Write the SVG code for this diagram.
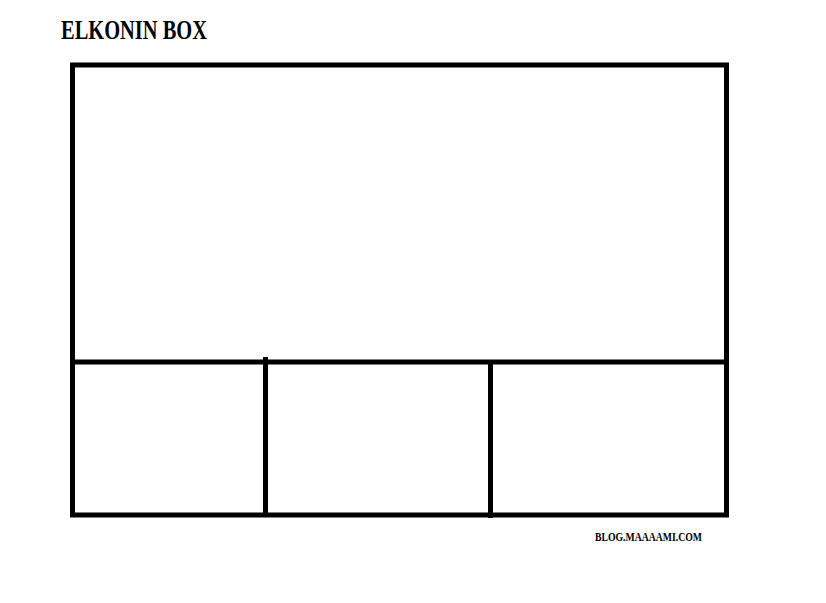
<svg xmlns="http://www.w3.org/2000/svg" width="826" height="603" viewBox="0 0 826 603">
<style>
.ln{stroke:#000;stroke-width:5;fill:none}
.t{font-family:"Liberation Serif","DejaVu Serif",serif;font-weight:bold;fill:#000}
</style>
<rect width="826" height="603" fill="#fff"/>
<g id="title"><text class="t" x="61" y="39" font-size="28" textLength="146" lengthAdjust="spacingAndGlyphs">ELKONIN BOX</text></g>
<g id="box">
<rect class="ln" x="72.5" y="65" width="654" height="450"/>
</g>
<g id="connectors">
<line class="ln" x1="72.5" y1="362" x2="729" y2="362"/>
<line class="ln" x1="265.5" y1="357" x2="265.5" y2="515"/>
<line class="ln" x1="490.5" y1="362" x2="490.5" y2="518"/>
</g>
<g id="footer"><text class="t" x="595" y="540.5" font-size="13" textLength="107" lengthAdjust="spacingAndGlyphs">BLOG.MAAAAMI.COM</text></g>
</svg>
